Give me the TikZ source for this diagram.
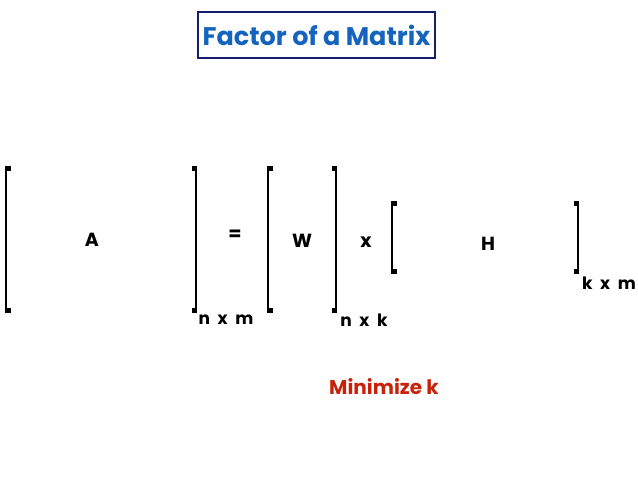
\documentclass[tikz,border=0pt]{standalone}
\usepackage{fontspec}
\setmainfont{Poppins}
\usepackage{tikz}
\usetikzlibrary{positioning}
\definecolor{titleblue}{RGB}{20,100,190}
\definecolor{boxblue}{RGB}{20,30,110}
\definecolor{minred}{RGB}{200,35,10}
\tikzset{
  lbl/.style={font=\fontsize{19}{19}\selectfont\bfseries, inner sep=0pt},
  dimlbl/.style={font=\fontsize{17}{17}\selectfont\bfseries, inner sep=0pt},
  brk/.style={line width=2.4pt, line cap=rect},
  tick/.style={line width=5pt}
}
% left bracket: x, top, bottom
\newcommand{\lbrk}[3]{%
  \draw[brk] (#1,#2) -- (#1,#3);
  \draw[tick] (#1-1,#2) -- (#1+4.5,#2);
  \draw[tick] (#1-1,#3) -- (#1+4.5,#3);}
% right bracket: x, top, bottom
\newcommand{\rbrk}[3]{%
  \draw[brk] (#1,#2) -- (#1,#3);
  \draw[tick] (#1+1,#2) -- (#1-4.5,#2);
  \draw[tick] (#1+1,#3) -- (#1-4.5,#3);}
\newcommand{\dimtxt}[2]{#1\hspace{0.45em}x\hspace{0.45em}#2}
\begin{document}
\begin{tikzpicture}[x=1pt,y=-1pt]
  \useasboundingbox (0,0) rectangle (638,479);
  % title
  \node[draw=boxblue, line width=1.3pt, text=titleblue, minimum width=237pt, minimum height=46pt,
        font=\fontsize{25.5}{25.5}\selectfont\bfseries] (title) at (316.5,35) {Factor of a Matrix};
  % matrices
  \lbrk{6}{168}{310}
  \rbrk{196}{168}{310}
  \node[lbl] (A) at (92,240) {A};
  \node[lbl] (eq) at (235,235) {=};
  \node[dimlbl] (Adim) at (226,320) {\dimtxt{n}{m}};
  \lbrk{268}{168}{310}
  \rbrk{336}{168}{310}
  \node[lbl] (W) at (302,241) {W};
  \node[lbl] (times) at (366,242) {x};
  \node[dimlbl] (Wdim) at (364,320) {\dimtxt{n}{k}};
  \lbrk{392}{203}{271}
  \rbrk{578}{203}{271}
  \node[lbl] (H) at (488,244) {H};
  \node[dimlbl] (Hdim) at (609,283) {\dimtxt{k}{m}};
  % goal
  \node[text=minred, font=\fontsize{20}{20}\selectfont\bfseries] (goal) at (384,387) {Minimize k};
\end{tikzpicture}
\end{document}
